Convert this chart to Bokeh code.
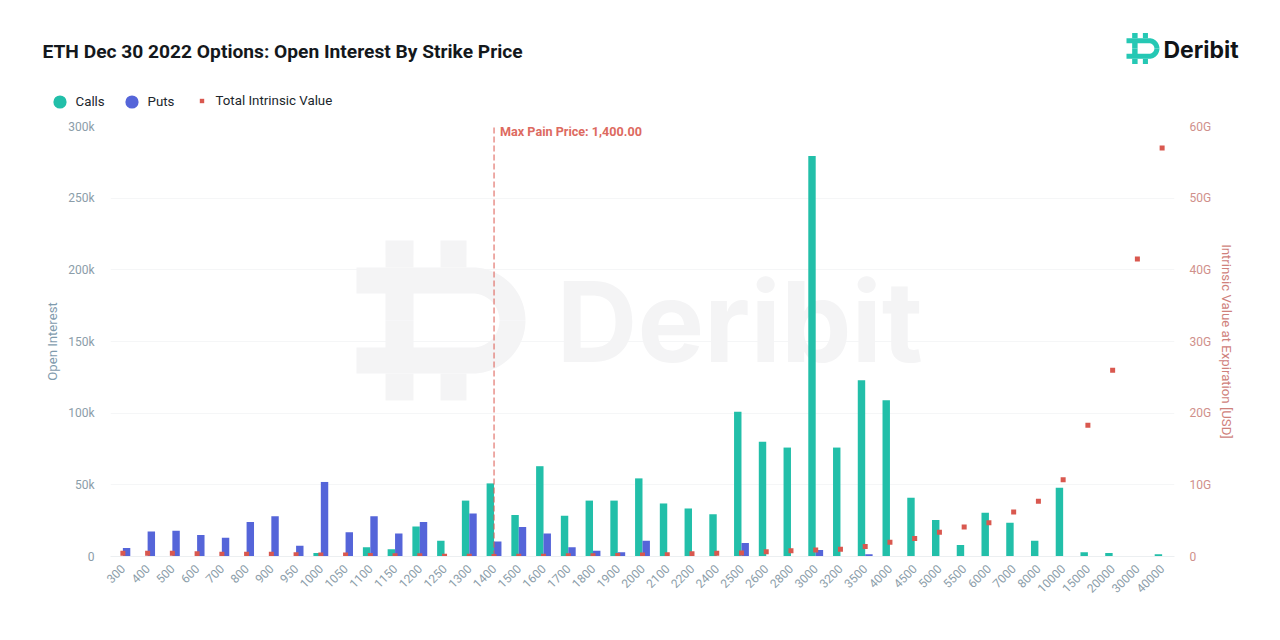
from bokeh.embed import file_html
from bokeh.resources import INLINE
from bokeh.layouts import column
from bokeh.plotting import figure
from bokeh.models import (ColumnDataSource, FactorRange, Range1d, LinearAxis, Legend, LegendItem,
                          Label, PolyAnnotation, BoxAnnotation, FixedTicker)
from bokeh.transform import dodge
import numpy as np

TITLE = "ETH Dec 30 2022 Options: Open Interest By Strike Price"
strikes = ["300","400","500","600","700","800","900","950","1000","1050","1100","1150","1200","1250",
           "1300","1400","1500","1600","1700","1800","1900","2000","2100","2200","2400","2500","2600",
           "2800","3000","3200","3500","4000","4500","5000","5500","6000","7000","8000","10000","15000",
           "20000","30000","40000"]
calls = [0,0,0,0,0,0,0,0,2500,0,6500,5000,21000,11000,39000,51000,29000,63000,28500,39000,39000,54500,
         37000,33500,29500,101000,80000,76000,279500,76000,123000,109000,41000,25500,8000,30500,23500,
         11000,48000,3000,2500,0,1500]
puts = [6000,17500,18000,15000,13000,24000,28000,7500,52000,17000,28000,16000,24000,0,30000,10500,20500,
        16000,6500,4000,3000,11000,0,0,0,9500,0,0,4500,0,1500,0,0,0,0,0,0,0,0,0,0,0,0]
intrinsic_g = [0.45,0.45,0.45,0.4,0.3,0.3,0.3,0.25,0.2,0.2,0.15,0.12,0.1,0.05,0.03,0.0,0.02,0.05,0.1,0.1,
               0.15,0.2,0.25,0.4,0.45,0.5,0.65,0.8,0.9,1.0,1.4,2.0,2.5,3.4,4.1,4.7,6.2,7.7,10.7,18.3,26.0,
               41.5,57.0]
oi_ticks = [0,50000,100000,150000,200000,250000,300000]
oi_labels = ["0","50k","100k","150k","200k","250k","300k"]
iv_ticks = [0,10,20,30,40,50,60]
iv_labels = ["0","10G","20G","30G","40G","50G","60G"]
max_pain = "1400"
max_pain_text = "Max Pain Price: 1,400.00"

C_CALL, C_PUT, C_IV = "#22bfa9", "#5565d9", "#d9584f"
W, HEAD, H = 1276, 118, 518
src = ColumnDataSource(dict(strike=strikes, calls=calls, puts=puts, iv=[v*1e9 for v in intrinsic_g]))

# header strip: title, legend and corner logo
head = figure(width=W, height=HEAD, output_backend="svg", toolbar_location=None, x_axis_type=None, y_axis_type=None,
              x_range=Range1d(0, W), y_range=Range1d(0, HEAD), min_border=0, outline_line_color=None,
              frame_align=False)

p = figure(width=W, height=H, output_backend="svg", toolbar_location=None,
           x_range=FactorRange(*strikes, range_padding=0, factor_padding=0),
           y_range=Range1d(0, 300000), min_border_left=110, min_border_right=102,
           min_border_top=8, min_border_bottom=80, outline_line_color=None,
           background_fill_color="white", border_fill_color=None, frame_align=False)
p.extra_y_ranges = {"iv": Range1d(0, 60e9)}

def logo(fig, ox, oy, s, color, level):
    a = np.linspace(-np.pi/2, 0, 24)
    ox_, ix_ = 116 + 53*np.cos(a), 116 + 27*np.cos(a)
    oy_, iy_ = 53*np.sin(a), 27*np.sin(a)
    top_x = [0] + list(ox_) + list(ix_[::-1]) + [57, 57, 29, 29, 0]
    top_y = [-53] + list(oy_) + list(iy_[::-1]) + [-27, 0, 0, -27, -27]
    for sign in (1, -1):
        fig.add_layout(PolyAnnotation(xs=[ox + s*v for v in top_x], ys=[oy + sign*s*v for v in top_y],
                                      xs_units="canvas", ys_units="canvas", fill_color=color, fill_alpha=1,
                                      line_color=color, line_alpha=0, level=level))
        for x0, x1 in ((29, 57), (84, 110)):
            fig.add_layout(BoxAnnotation(left=ox + s*x0, right=ox + s*x1, top=oy + sign*s*53, bottom=oy + sign*s*80,
                                         left_units="canvas", right_units="canvas", top_units="canvas",
                                         bottom_units="canvas", fill_color=color, fill_alpha=1, line_alpha=0,
                                         level=level))

logo(p, 356, 320-HEAD, 1.0, "#f4f4f5", "underlay")
logo(head, 1126, 48, 0.195, "#25c8b4", "annotation")
p.add_layout(Label(x=556, y=320-HEAD, x_units="canvas", y_units="canvas", text="Deribit", text_font="Inter",
                   text_font_style="bold", text_font_size="112px", text_color="#f4f4f5",
                   text_baseline="middle", level="underlay"))
head.add_layout(Label(x=1163, y=49, x_units="canvas", y_units="canvas", text="Deribit", text_font="Inter",
                      text_font_style="bold", text_font_size="23px", text_color="#111418",
                      text_baseline="middle"))
head.add_layout(Label(x=42, y=51, x_units="canvas", y_units="canvas", text=TITLE, text_font="Roboto",
                      text_font_style="bold", text_font_size="19.2px", text_color="#14181c",
                      text_baseline="middle"))

# marks
p.vbar(x=dodge("strike", -0.15, range=p.x_range), top="calls", width=0.3, source=src,
       fill_color=C_CALL, line_color=None)
p.vbar(x=dodge("strike", 0.15, range=p.x_range), top="puts", width=0.3, source=src,
       fill_color=C_PUT, line_color=None)
p.scatter("strike", "iv", source=src, marker="square", size=5, fill_color=C_IV, line_color=None,
          y_range_name="iv")

p.line([max_pain, max_pain], [0, 300000], line_color="#dc5850", line_width=1, line_dash=[6, 3])
p.text([max_pain], [300000], text=[max_pain_text], x_offset=6, y_offset=-3, text_font={"value": "Roboto"},
       text_font_size="12.6px", text_font_style="bold", text_color="#dd6a60", text_baseline="top", text_align="left")

# axes
def style(ax, color, label_color, standoff):
    ax.major_tick_line_color = None
    ax.minor_tick_line_color = None
    ax.axis_line_color = None
    ax.major_label_text_color = color
    ax.major_label_text_font = "Roboto"
    ax.major_label_text_font_size = "12px"
    ax.major_label_standoff = standoff
    ax.axis_label_text_color = label_color
    ax.axis_label_text_font = "Roboto"
    ax.axis_label_text_font_size = "13.2px"
    ax.axis_label_text_font_style = "normal"

ya = p.yaxis[0]
style(ya, "#8b9da9", "#7f9bad", 10)
ya.axis_label = "Open Interest"
ya.axis_label_standoff = 5
ya.ticker = FixedTicker(ticks=oi_ticks)
ya.major_label_overrides = dict(zip(oi_ticks, oi_labels))

yr = LinearAxis(y_range_name="iv", axis_label="Intrinsic Value at Expiration [USD]")
style(yr, "#cf908b", "#cf817b", 9)
yr.axis_label_standoff = 5
yr.ticker = FixedTicker(ticks=[v*1e9 for v in iv_ticks])
yr.major_label_overrides = {v*1e9: l for v, l in zip(iv_ticks, iv_labels)}
p.add_layout(yr, "right")

xa = p.xaxis[0]
style(xa, "#8b9da9", "#8b9da9", 4)
xa.axis_line_color = "#eceff1"
xa.major_label_orientation = 0.785

p.xgrid.grid_line_color = None
p.ygrid.grid_line_color = "#f5f6f7"
p.ygrid.ticker = FixedTicker(ticks=oi_ticks)

# legend
def legend(name, rend, x, y, gw, standoff):
    head.add_layout(Legend(items=[LegendItem(label=name, renderers=[rend])], location=(x, y - gw/2),
                           orientation="horizontal", glyph_width=gw, glyph_height=gw, label_standoff=standoff,
                           padding=0, margin=0, border_line_color=None, background_fill_alpha=0,
                           label_text_font="Roboto", label_text_font_size="13.3px", label_text_font_style="normal",
                           label_text_color="#20262c", label_height=10))

nan = [float("nan")]
dummy_c = head.scatter(nan, nan, marker="circle", size=13, fill_color=C_CALL, line_color=None)
dummy_p = head.scatter(nan, nan, marker="circle", size=13, fill_color=C_PUT, line_color=None)
dummy_iv = head.scatter(nan, nan, marker="square", size=4, fill_color=C_IV, line_color=None)
legend("Calls", dummy_c, 42.5, 17, 33, -5)
legend("Puts", dummy_p, 114.5, 17, 33, -4)
legend("Total Intrinsic Value", dummy_iv, 195.5, 15.5, 11, 9)

open("out.html", "w").write(file_html(column(head, p, spacing=0), INLINE))
